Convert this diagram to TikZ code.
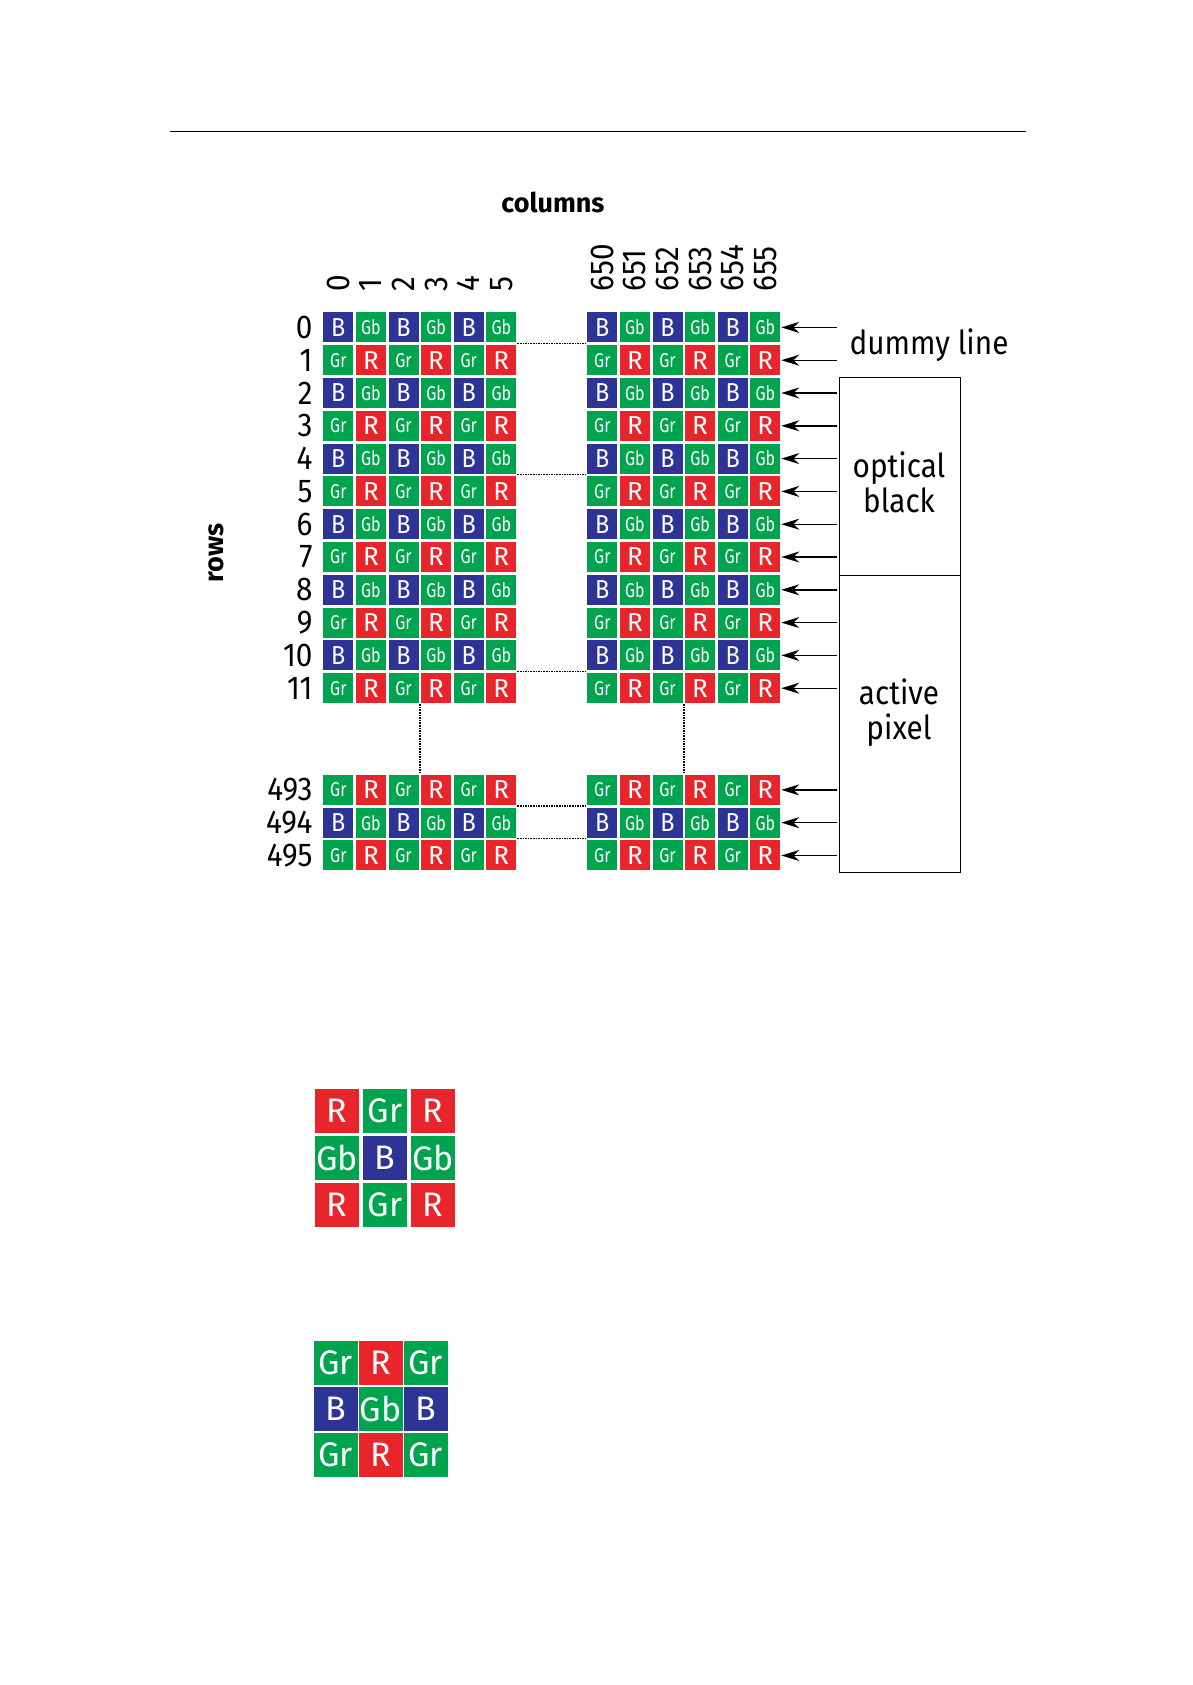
\documentclass[tikz,border=0pt]{standalone}
\usepackage{fontspec}
\setmainfont{Fira Sans}
\usetikzlibrary{arrows.meta}
\definecolor{cb}{RGB}{46,52,150}
\definecolor{cg}{RGB}{0,163,78}
\definecolor{cr}{RGB}{232,37,42}
\begin{document}
\begin{tikzpicture}[x=1pt,y=-1pt,
  cell/.style={minimum width=31pt,minimum height=31pt,inner sep=0pt,text=white,draw=white,line width=1pt},
  B/.style={cell,fill=cb,font=\fontsize{26}{26}\selectfont\addfontfeature{FakeStretch=0.9}},
  R/.style={cell,fill=cr,font=\fontsize{26}{26}\selectfont},
  Gb/.style={cell,fill=cg,font=\fontsize{20}{20}\selectfont\addfontfeature{FakeStretch=0.8}},
  Gr/.style={cell,fill=cg,font=\fontsize{20}{20}\selectfont\addfontfeature{FakeStretch=0.8}},
  lab/.style={font=\fontsize{33}{35}\selectfont\addfontfeature{FakeStretch=0.9}},
  dot/.style={densely dotted,line width=1.6pt},
  arr/.style={-{Stealth[length=18pt,width=11pt]},line width=1.4pt},
  big/.style={minimum width=45pt,minimum height=45pt,font=\fontsize{34}{34}\selectfont}]
\useasboundingbox (0,0) rectangle (1192,1685);
\draw[line width=0.8pt] (170,131) -- (1026,131);
\node[font=\fontsize{27}{27}\selectfont\bfseries] (cols) at (553,202) {columns};
\node[font=\fontsize{27}{27}\selectfont\bfseries,rotate=90] (rows) at (216,553) {rows};
\def\cw{32.6}\def\rh{32.8}
\foreach \r/\ry/\lbl in {0/0/0,1/1/1,2/2/2,3/3/3,4/4/4,5/5/5,6/6/6,7/7/7,8/8/8,9/9/9,10/10/10,11/11/11,12/14.1/493,13/15.1/494,14/16.1/495}{
  \pgfmathsetmacro{\yy}{311+\ry*\rh+\rh/2}
  \pgfmathtruncatemacro{\pr}{mod(\lbl,2)}
  \node[lab,anchor=east] (rl\r) at (316,\yy) {\lbl};
  \foreach \c in {0,...,5}{
    \pgfmathtruncatemacro{\cp}{mod(\c,2)}
    \ifnum\pr=0
      \ifnum\cp=0 \def\s{B}\else\def\s{Gb}\fi
    \else
      \ifnum\cp=0 \def\s{Gr}\else\def\s{R}\fi
    \fi
    \node[\s] (L\r-\c) at ({322+\c*\cw+\cw/2},\yy) {\s};
    \node[\s] (Rt\r-\c) at ({586+\c*\cw+\cw/2},\yy) {\s};
  }
}
\foreach \c in {0,...,5}{
  \node[lab,rotate=90,anchor=west] (cl\c) at ({322+\c*\cw+\cw/2},295) {\c};
  \pgfmathtruncatemacro{\n}{650+\c}
  \node[lab,rotate=90,anchor=west] (cr\c) at ({586+\c*\cw+\cw/2},295) {\n};
}
\draw[dot] (L0-5.south east) -- (Rt0-0.south west);
\draw[dot] (L4-5.south east) -- (Rt4-0.south west);
\draw[dot] (L10-5.south east) -- (Rt10-0.south west);
\draw[dot] (L12-5.south east) -- (Rt12-0.south west);
\draw[dot] (L13-5.south east) -- (Rt13-0.south west);
\draw[dot] (L11-3.south west) -- (L12-3.north west);
\draw[dot] (Rt11-3.south west) -- (Rt12-3.north west);
\node[draw,line width=1.2pt,minimum width=121pt,minimum height=495pt,anchor=north west,inner sep=0pt] (box) at (839,377) {};
\coordinate (dv) at (839,575);
\draw[line width=0.8pt] (dv) -- (960,575);
\node[lab,align=center] (ob) at (899,482) {optical\\black};
\node[lab,align=center] (ap) at (899,713) {active\\pixel};
\node[lab,anchor=west] (dl) at (846,345) {dummy line};
\foreach \r in {0,...,14}{
  \path (Rt\r-5.east) ++(56,0) coordinate (a\r);
  \draw[arr] (a\r) -- (Rt\r-5.east);
}
\foreach \s [count=\i from 0] in {R,Gr,R,Gb,B,Gb,R,Gr,R}{
  \pgfmathtruncatemacro{\cx}{mod(\i,3)}\pgfmathtruncatemacro{\cy}{div(\i,3)}
  \node[\s,big] (p\i) at ({313+24+\cx*48},{1087+23.5+\cy*47}) {\s};
}
\foreach \s [count=\i from 0] in {Gr,R,Gr,B,Gb,B,Gr,R,Gr}{
  \pgfmathtruncatemacro{\cx}{mod(\i,3)}\pgfmathtruncatemacro{\cy}{div(\i,3)}
  \node[\s,big] (q\i) at ({313+22.5+\cx*45},{1340+23+\cy*46}) {\s};
}
\end{tikzpicture}
\end{document}
